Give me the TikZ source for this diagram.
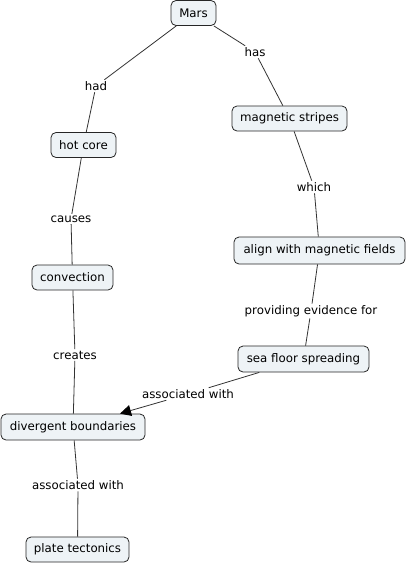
\documentclass[tikz,border=0pt]{standalone}
\usepackage{fontspec}
\setmainfont{DejaVu Sans}
\usetikzlibrary{arrows.meta}
\begin{document}
\begin{tikzpicture}[x=1pt,y=-1pt,
  concept/.style={draw=black!85,fill=cfill,rounded corners=5pt,line width=0.8pt,
    font=\fontsize{11.8}{14}\selectfont,inner sep=0pt,minimum height=25pt},
  lbl/.style={fill=white,inner sep=1.5pt,font=\fontsize{11.8}{14}\selectfont},
  link/.style={draw=black!80,line width=0.8pt}]
\definecolor{cfill}{HTML}{EEF3F6}
\useasboundingbox (0,0) rectangle (406,566);
\node[concept,minimum width=45pt] (mars) at (193.5,13) {Mars};
\node[concept,minimum width=65pt] (hot) at (83.5,145) {hot core};
\node[concept,minimum width=115pt] (mag) at (289.5,118.5) {magnetic stripes};
\node[concept,minimum width=171pt,minimum height=27pt] (align) at (319.5,250.5) {align with magnetic fields};
\node[concept,minimum width=81pt] (conv) at (72.5,277.5) {convection};
\node[concept,minimum width=131pt,minimum height=26pt] (sea) at (303.5,359) {sea floor spreading};
\node[concept,minimum width=144pt,minimum height=26pt] (div) at (73,427) {divergent boundaries};
\node[concept,minimum width=103pt] (plate) at (77.5,549.5) {plate tectonics};
\node[lbl] (had) at (96,86) {had};
\node[lbl] (has) at (255,52) {has};
\node[lbl] (which) at (314,187) {which};
\node[lbl] (causes) at (71,219) {causes};
\node[lbl] (prov) at (311,311) {providing evidence for};
\node[lbl] (creates) at (75,355) {creates};
\node[lbl] (assoc1) at (188,394) {associated with};
\node[lbl] (assoc2) at (78,485) {associated with};
\draw[link] (mars) -- (had);
\draw[link] (had) -- (hot);
\draw[link] (mars) -- (has);
\draw[link] (has) -- (mag);
\draw[link] (mag) -- (which);
\draw[link] (which) -- (align);
\draw[link] (hot) -- (causes);
\draw[link] (causes) -- (conv);
\draw[link] (align) -- (prov);
\draw[link] (prov) -- (sea);
\draw[link] (conv) -- (creates);
\draw[link] (creates) -- (div);
\draw[link] (sea) -- (assoc1);
\draw[link,-{Triangle[length=11pt,width=11pt,color=black]}] (assoc1) -- (div.north east -| 120,0);
\draw[link] (div) -- (assoc2);
\draw[link] (assoc2) -- (plate);
\end{tikzpicture}
\end{document}
